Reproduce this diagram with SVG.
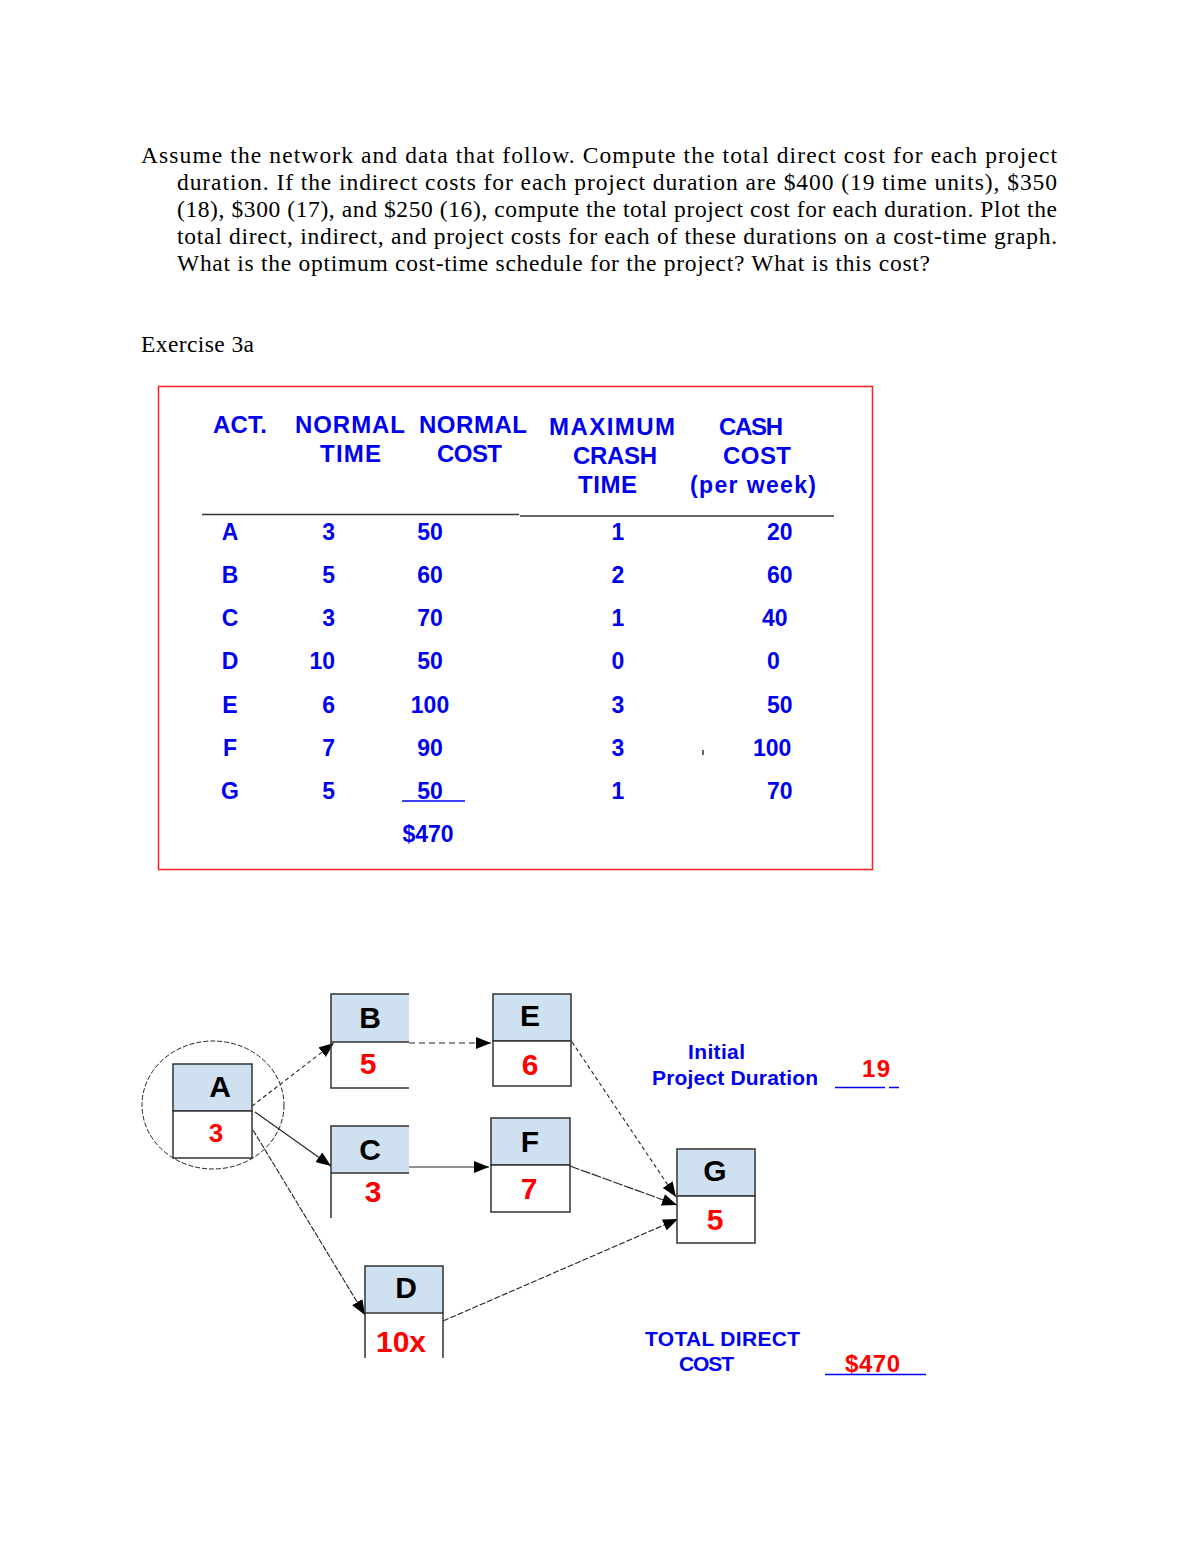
<svg xmlns="http://www.w3.org/2000/svg" width="1200" height="1553" viewBox="0 0 1200 1553">
<style>
.para{font-family:"Liberation Serif","Times New Roman",serif;font-size:23.5px;fill:#000}
.hd{font-family:"Liberation Sans",Arial,sans-serif;font-weight:bold;font-size:24px;fill:#0000f0}
.td{font-family:"Liberation Sans",Arial,sans-serif;font-weight:bold;font-size:23px;fill:#0000f0}
.lbl{font-family:"Liberation Sans",Arial,sans-serif;font-weight:bold;font-size:21px;fill:#0000f0}
.red{font-family:"Liberation Sans",Arial,sans-serif;font-weight:bold;font-size:24px;fill:#ff0000}
.nl{font-family:"Liberation Sans",Arial,sans-serif;font-weight:bold;font-size:30px;fill:#000;text-anchor:middle}
.nv{font-family:"Liberation Sans",Arial,sans-serif;font-weight:bold;font-size:30px;fill:#ff0000;text-anchor:middle}
.top{fill:#cfe0f1;stroke:#333;stroke-width:1.5}
.bot{fill:#fff;stroke:#333;stroke-width:1.5}
.ln{fill:none;stroke:#333;stroke-width:1.5}
.c{fill:none;stroke:#222;stroke-width:1.1;marker-end:url(#ah)}
.mid{text-anchor:middle}
</style>
<defs>
<marker id="ah" markerUnits="userSpaceOnUse" markerWidth="16" markerHeight="12" refX="15" refY="6" orient="auto">
<path d="M0,0 L15,6 L0,12 z" fill="#000"/>
</marker>
</defs>
<rect width="1200" height="1553" fill="#fff"/>

<g id="paragraph">
<text class="para" x="141" y="163" textLength="916" lengthAdjust="spacing">Assume the network and data that follow.  Compute the total direct cost for each project</text>
<text class="para" x="177" y="190" textLength="880" lengthAdjust="spacing">duration.  If the indirect costs for each project duration are $400 (19 time units), $350</text>
<text class="para" x="177" y="217" textLength="880" lengthAdjust="spacing">(18), $300 (17), and $250 (16), compute the total project cost for each duration.  Plot the</text>
<text class="para" x="177" y="244" textLength="880" lengthAdjust="spacing">total direct, indirect, and project costs for each of these durations on a cost-time graph.</text>
<text class="para" x="177" y="271" textLength="753" lengthAdjust="spacing">What is the optimum cost-time schedule for the project?  What is this cost?</text>
<text class="para" x="141" y="352" textLength="113" lengthAdjust="spacing">Exercise 3a</text>
</g>

<g id="table">
<rect x="158.5" y="386.5" width="714" height="483" fill="none" stroke="#ff2020" stroke-width="1.5"/>
<text class="hd" x="213" y="433" textLength="54">ACT.</text>
<text class="hd" x="295" y="433" textLength="110">NORMAL</text>
<text class="hd" x="320" y="462" textLength="61">TIME</text>
<text class="hd" x="419" y="433" textLength="108">NORMAL</text>
<text class="hd" x="437" y="462" textLength="65">COST</text>
<text class="hd" x="549" y="435" textLength="126">MAXIMUM</text>
<text class="hd" x="573" y="464" textLength="84">CRASH</text>
<text class="hd" x="578" y="493" textLength="59">TIME</text>
<text class="hd" x="719" y="435" textLength="64">CASH</text>
<text class="hd" x="723" y="464" textLength="68">COST</text>
<text class="hd" x="690" y="493" textLength="126" style="font-size:23px">(per week)</text>
<line x1="202" y1="514.5" x2="519" y2="514.5" stroke="#333" stroke-width="1.6"/>
<line x1="520" y1="516" x2="834" y2="516" stroke="#333" stroke-width="1.6"/>

<g class="td">
<text x="230" y="540" class="mid">A</text><text x="335" y="540" text-anchor="end">3</text><text x="430" y="540" class="mid">50</text><text x="618" y="540" class="mid">1</text><text x="767" y="540">20</text>
<text x="230" y="583" class="mid">B</text><text x="335" y="583" text-anchor="end">5</text><text x="430" y="583" class="mid">60</text><text x="618" y="583" class="mid">2</text><text x="767" y="583">60</text>
<text x="230" y="626" class="mid">C</text><text x="335" y="626" text-anchor="end">3</text><text x="430" y="626" class="mid">70</text><text x="618" y="626" class="mid">1</text><text x="762" y="626">40</text>
<text x="230" y="669" class="mid">D</text><text x="335" y="669" text-anchor="end">10</text><text x="430" y="669" class="mid">50</text><text x="618" y="669" class="mid">0</text><text x="767" y="669">0</text>
<text x="230" y="713" class="mid">E</text><text x="335" y="713" text-anchor="end">6</text><text x="430" y="713" class="mid">100</text><text x="618" y="713" class="mid">3</text><text x="767" y="713">50</text>
<text x="230" y="756" class="mid">F</text><text x="335" y="756" text-anchor="end">7</text><text x="430" y="756" class="mid">90</text><text x="618" y="756" class="mid">3</text><text x="753" y="756">100</text>
<text x="230" y="799" class="mid">G</text><text x="335" y="799" text-anchor="end">5</text><text x="430" y="799" class="mid">50</text><text x="618" y="799" class="mid">1</text><text x="767" y="799">70</text>
<text x="428" y="842" class="mid">$470</text>
</g>
<line x1="402" y1="801" x2="465" y2="801" stroke="#0000f0" stroke-width="1.5"/>
<line x1="703" y1="750" x2="703" y2="755" stroke="#000" stroke-width="1.2"/>
</g>

<g id="connectors">
<path class="c" d="M252,1106 L334,1043" stroke-dasharray="4,3"/>
<path class="c" d="M255,1112 L331,1166"/>
<path class="c" d="M253,1130 L365,1315" stroke-dasharray="6,1.5"/>
<path class="c" d="M409,1043 L491,1043" stroke-dasharray="6,4"/>
<path class="c" d="M409,1167 L489,1167"/>
<path class="c" d="M572,1042 L676,1197" stroke-dasharray="4,3"/>
<path class="c" d="M570,1166 L677,1205" stroke-dasharray="10,1.5"/>
<path class="c" d="M443,1321 L678,1219" stroke-dasharray="6,2"/>
</g>

<g id="node-A">
<ellipse cx="213" cy="1105" rx="71" ry="64" fill="none" stroke="#222" stroke-width="1" stroke-dasharray="5,2"/>
<rect class="top" x="173" y="1064" width="79" height="47"/>
<rect class="bot" x="173" y="1111" width="79" height="47"/>
<text class="nl" x="220" y="1097">A</text>
<text class="nv" x="216" y="1142" style="font-size:26px">3</text>
</g>

<g id="node-B">
<rect x="331" y="994" width="78" height="48" fill="#cfe0f1"/>
<path class="ln" d="M409,994 H331 V1088 H409 M331,1042 H409"/>
<text class="nl" x="370" y="1028">B</text>
<text class="nv" x="368" y="1074">5</text>
</g>

<g id="node-C">
<rect x="331" y="1126" width="78" height="47" fill="#cfe0f1"/>
<path class="ln" d="M409,1126 H331 V1218 M331,1173 H409"/>
<text class="nl" x="370" y="1160">C</text>
<text class="nv" x="373" y="1202">3</text>
</g>

<g id="node-D">
<rect class="top" x="365" y="1266" width="78" height="47"/>
<path class="ln" d="M365,1313 V1358 M443,1313 V1358"/>
<text class="nl" x="406" y="1298">D</text>
<text class="nv" x="401" y="1352">10x</text>
</g>

<g id="node-E">
<rect class="top" x="493" y="994" width="78" height="47"/>
<rect class="bot" x="493" y="1041" width="78" height="45"/>
<text class="nl" x="530" y="1026">E</text>
<text class="nv" x="530" y="1075">6</text>
</g>

<g id="node-F">
<rect class="top" x="491" y="1118" width="79" height="47"/>
<rect class="bot" x="491" y="1165" width="79" height="47"/>
<text class="nl" x="530" y="1152">F</text>
<text class="nv" x="529" y="1199">7</text>
</g>

<g id="node-G">
<rect class="top" x="677" y="1149" width="78" height="47"/>
<rect class="bot" x="677" y="1196" width="78" height="47"/>
<text class="nl" x="715" y="1181">G</text>
<text class="nv" x="715" y="1230">5</text>
</g>

<g id="labels">
<text class="lbl" x="688" y="1059" textLength="57">Initial</text>
<text class="lbl" x="652" y="1085" textLength="166">Project Duration</text>
<text class="red" x="862" y="1077" textLength="28">19</text>
<path d="M835,1087.5 H885 M889,1087.5 H899" stroke="#0000f0" stroke-width="1.5"/>
<text class="lbl" x="645" y="1346" textLength="155">TOTAL DIRECT</text>
<text class="lbl" x="679" y="1371" textLength="55">COST</text>
<text class="red" x="845" y="1372" textLength="55">$470</text>
<line x1="825" y1="1374.5" x2="926" y2="1374.5" stroke="#0000f0" stroke-width="1.5"/>
</g>
</svg>
